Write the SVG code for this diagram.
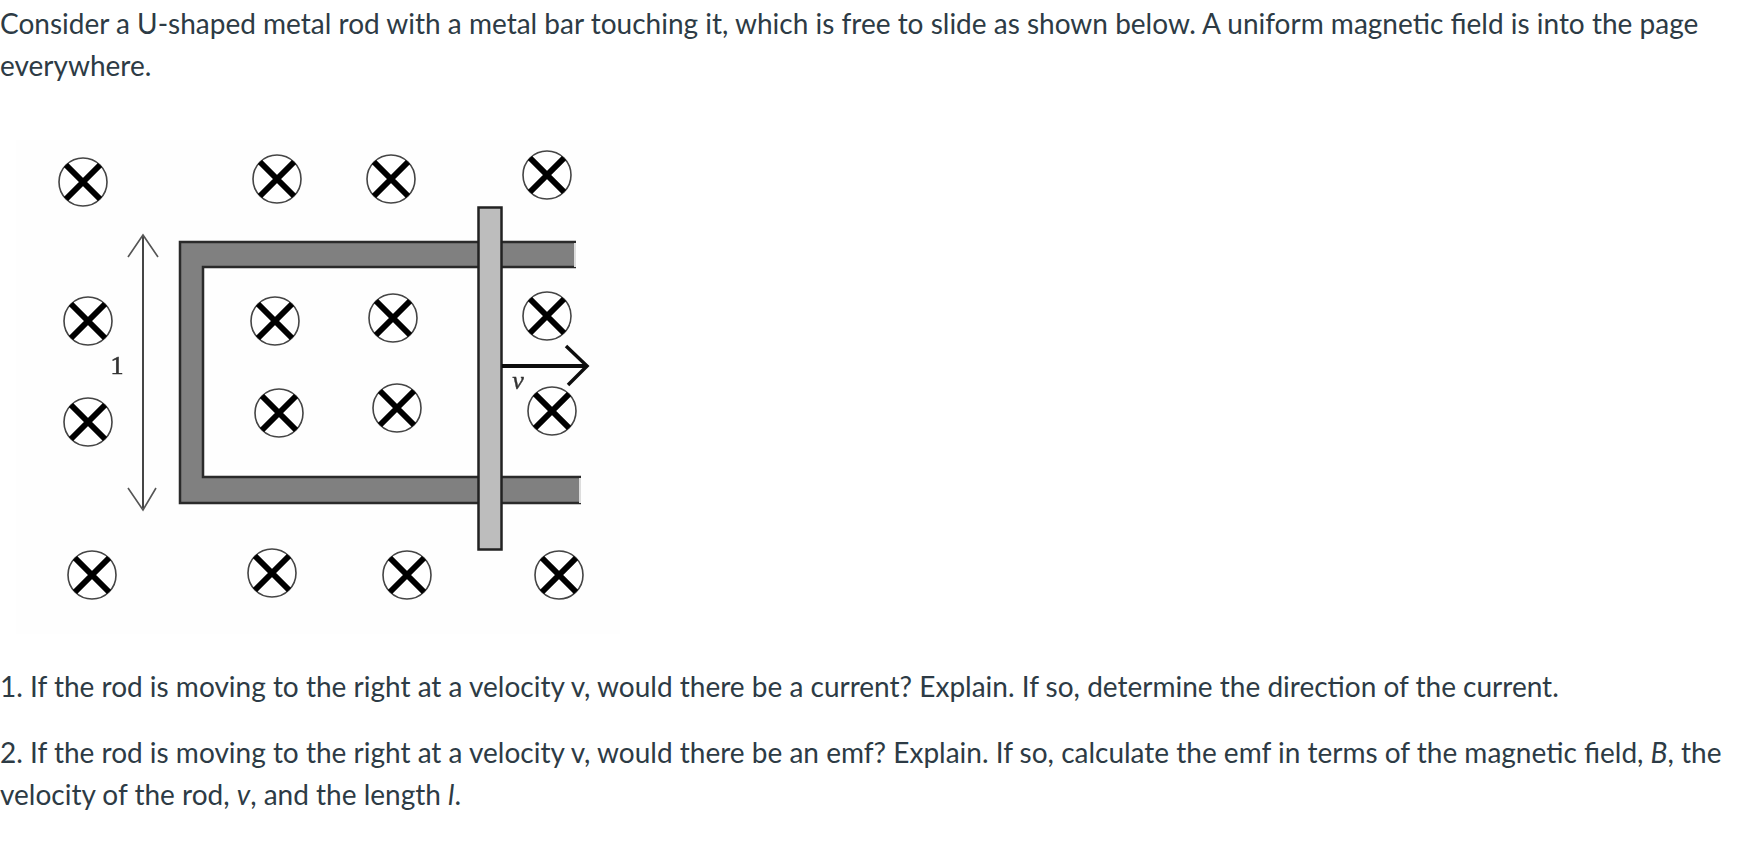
<svg xmlns="http://www.w3.org/2000/svg" width="1748" height="844" viewBox="0 0 1748 844">
<style>
.t{font-family:Lato,"Liberation Sans",sans-serif;font-size:28px;fill:#2d3b45}
.c{fill:#fff;stroke:#444;stroke-width:1.6}
.x{stroke:#000;stroke-width:6;fill:none}
.l{stroke:#444;stroke-width:2;fill:none}
.h{stroke:#555;stroke-width:1.6;fill:none}
.s{font-family:"Liberation Serif",serif;fill:#333}
.b{filter:url(#soft)}
</style>
<defs>
<filter id="soft" x="-5%" y="-5%" width="110%" height="110%"><feGaussianBlur stdDeviation="0.5"/></filter>
<g id="cross"><circle class="c" r="24"/><path class="x" d="M-17,-17L17,17M17,-17L-17,17"/></g>
</defs>
<rect width="1748" height="844" fill="#fff"/>
<g id="text-top">
<text class="t" x="0" y="34">Consider a U-shaped metal rod with a metal bar touching it, which is free to slide as shown below. A uniform magnetic field is into the page</text>
<text class="t" x="0" y="76">everywhere.</text>
</g>
<rect x="16" y="140" width="604" height="494" fill="#fefefe"/>
<g id="field" class="b">
<use href="#cross" x="83" y="182"/><use href="#cross" x="277" y="179"/><use href="#cross" x="391" y="179"/><use href="#cross" x="547" y="175"/>
<use href="#cross" x="88" y="321"/><use href="#cross" x="275" y="321"/><use href="#cross" x="393" y="318"/><use href="#cross" x="547" y="316"/>
<use href="#cross" x="88" y="422"/><use href="#cross" x="279" y="413"/><use href="#cross" x="397" y="408"/><use href="#cross" x="552" y="411"/>
<use href="#cross" x="92" y="575"/><use href="#cross" x="272" y="573"/><use href="#cross" x="407" y="575"/><use href="#cross" x="559" y="575"/>
</g>
<g id="rail" class="b">
<path d="M576,242H180V503H581V477H203V267H576Z" fill="#808080"/>
<path d="M576,242H180V503H581M581,477H203V267H576" fill="none" stroke="#2a2a2a" stroke-width="2.500"/>
<path d="M575,243V267M580,478V503" stroke="#ddd" stroke-width="2" fill="none"/>
</g>
<g id="bar" class="b"><rect x="478.500" y="207.500" width="23" height="342" fill="#bdbdbd" stroke="#222" stroke-width="2.500"/></g>
<g id="connectors" class="b">
<path class="l" d="M143,236V508"/>
<path class="h" d="M128,257L143,235L158,257M128,488L143,510L156,488"/>
<path d="M502,366H586" stroke="#111" stroke-width="4" fill="none"/>
<path d="M566,346L587,366L568,385" stroke="#111" stroke-width="3.500" fill="none"/>
</g>
<g id="labels" class="b">
<text class="s" x="117" y="374" font-size="26" text-anchor="middle" stroke="#333" stroke-width="0.6">1</text>
<text class="s" x="518" y="389" font-size="26" font-style="italic" text-anchor="middle" stroke="#333" stroke-width="0.4">v</text>
</g>
<g id="text-bottom">
<text class="t" x="0" y="697">1. If the rod is moving to the right at a velocity v, would there be a current? Explain. If so, determine the direction of the current.</text>
<text class="t" x="0" y="763">2. If the rod is moving to the right at a velocity v, would there be an emf? Explain. If so, calculate the emf in terms of the magnetic field, <tspan font-style="italic">B</tspan>, the</text>
<text class="t" x="0" y="805">velocity of the rod, <tspan font-style="italic">v</tspan>, and the length <tspan font-style="italic">l</tspan>.</text>
</g>
</svg>
